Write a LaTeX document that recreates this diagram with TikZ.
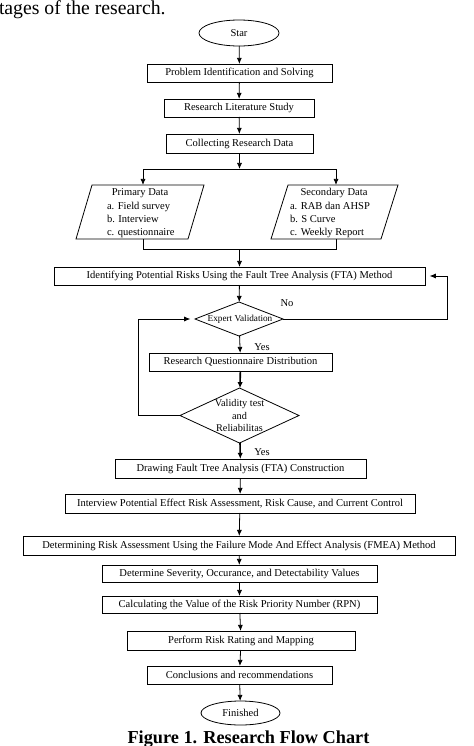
\documentclass[tikz,border=0pt]{standalone}
\usepackage{fontspec}
\setmainfont{Liberation Serif}
\usetikzlibrary{shapes.geometric,arrows.meta,calc}
\begin{document}
\begin{tikzpicture}[x=0.75pt,y=-0.75pt,
  every node/.style={font=\fontsize{7.9pt}{9.4pt}\selectfont, inner sep=0pt, outer sep=0pt},
  ln/.style={line width=0.6pt},
  box/.style 2 args={draw, ln, rectangle, minimum width=#1*0.75pt, minimum height=#2*0.75pt},
  term/.style 2 args={draw, ln, ellipse, minimum width=#1*0.75pt, minimum height=#2*0.75pt},
  dia/.style 2 args={draw, ln, diamond, minimum width=#1*0.75pt, minimum height=#2*0.75pt},
  frame/.style 2 args={rectangle, minimum width=#1*0.75pt, minimum height=#2*0.75pt},
  arr/.style={ln, -{Latex[length=4.6pt,width=3.8pt]}},
  thk/.style={line width=1.2pt, -{Latex[length=4.6pt,width=4pt]}},
  lab/.style={font=\fontsize{7.9pt}{9.4pt}\selectfont},
]
\useasboundingbox (0,0) rectangle (474,746);

% heading fragment and caption
\node[anchor=base west, font=\fontsize{14.8pt}{17pt}\selectfont] (head) at (-1,14.5) {tages of the research.};
\node[anchor=base, font=\fontsize{13.7pt}{16pt}\selectfont\bfseries] (cap) at (248.5,743) {Figure 1. Research Flow Chart};

% main column
\node[term={80}{26}] (start) at (239,33) {Star};
\node[box={185}{18}] (p1) at (239.5,73) {Problem Identification and Solving};
\node[box={150}{18}] (p2) at (239,108) {Research Literature Study};
\node[box={147}{19}] (p3) at (239.5,143.5) {Collecting Research Data};

% data parallelograms
\node[frame={128}{54}] (prim) at (140,212) {};
\node[frame={127}{54}] (sec) at (334.5,212) {};
\draw[ln] ($(prim.north west)+(16,0)$) -- (prim.north east) -- ($(prim.south east)+(-16,0)$) -- (prim.south west) -- cycle;
\draw[ln] ($(sec.north west)+(17,0)$) -- (sec.north east) -- ($(sec.south east)+(-17,0)$) -- (sec.south west) -- cycle;
\node (primT) at (140,193) {Primary Data};
\node[anchor=west, align=left, font=\fontsize{7.9pt}{9.75pt}\selectfont] (primL) at (107,220) {a. Field survey\\b. Interview\\c. questionnaire};
\node (secT) at (334,193) {Secondary Data};
\node[anchor=west, align=left, font=\fontsize{7.9pt}{9.75pt}\selectfont] (secL) at (290,220) {a. RAB dan AHSP\\b. S Curve\\c. Weekly Report};

\node[box={371}{18}] (p4) at (239.5,276) {Identifying Potential Risks Using the Fault Tree Analysis (FTA) Method};
\node[dia={88}{34}] (d1) at (239,319) {};
\node[font=\fontsize{6.9pt}{8pt}\selectfont] (d1t) at (240,319.5) {Expert Validation};
\node[box={183}{18}] (p5) at (240.5,362) {Research Questionnaire Distribution};
\node[dia={119}{55}] (d2) at (239.5,415.5) {};
\node[align=center, font=\fontsize{7.7pt}{9.4pt}\selectfont] (d2t) at (239.5,415.5) {Validity test\\and\\Reliabilitas};
\node[box={251}{19}] (p6) at (240.5,468.5) {Drawing Fault Tree Analysis (FTA) Construction};
\node[box={350}{19}] (p7) at (240,503.5) {Interview Potential Effect Risk Assessment, Risk Cause, and Current Control};
\node[box={432}{19}] (p8) at (239,545.5) {Determining Risk Assessment Using the Failure Mode And Effect Analysis (FMEA) Method};
\node[box={275}{17}] (p9) at (239.5,573.5) {Determine Severity, Occurance, and Detectability Values};
\node[box={275}{17}] (p10) at (239.5,604.5) {Calculating the Value of the Risk Priority Number (RPN)};
\node[box={228}{19}] (p11) at (241,640.5) {Perform Risk Rating and Mapping};
\node[box={185}{18}] (p12) at (239.5,675) {Conclusions and recommendations};
\node[term={79}{24}] (fin) at (240.5,713) {Finished};

% labels
\node[lab] (no) at (287,303) {No};
\node[lab] (yes1) at (262,347) {Yes};
\node[lab] (yes2) at (262,452) {Yes};

% junction coordinates
\coordinate (j1) at (239.5,169);
\coordinate (jl) at (143,169);
\coordinate (jr) at (336,169);
\coordinate (bl) at (143,249);
\coordinate (br) at (336,249);
\coordinate (b1) at (239.5,249);
\coordinate (lp) at (138,0);
\coordinate (fb) at (447,0);

% connectors
\draw[arr] (start) -- (p1);
\draw[arr] (p1) -- (p2);
\draw[arr] (p2) -- (p3);
\draw[arr] (p3) -- (j1);
\draw[ln] (jl) -- (jr);
\draw[arr] (jl) -- (jl |- prim.north);
\draw[arr] (jr) -- (jr |- sec.north);
\draw[ln] (bl |- prim.south) -- (bl) -- (br) -- (br |- sec.south);
\draw[arr] (b1) -- (p4);
\draw[arr] (p4) -- (d1);
\draw[arr, shorten >=3.5pt] (d1.east) -- (d1.east -| fb) -- (p4.east -| fb) -- (p4.east);
\draw[arr] (d1) -- (p5);
\draw[thk] (p5) -- (d2);
\draw[arr, shorten >=3.5pt] (d2.west) -- (d2.west -| lp) -- (d1.west -| lp) -- (d1.west);
\draw[thk] (d2) -- (p6);
\draw[arr] (p6) -- (p7);
\draw[arr] (p7) -- (p8);
\draw[arr] (p8) -- (p9);
\draw[arr] (p9) -- (p10);
\draw[arr] (p10) -- (p11);
\draw[arr] (p11) -- (p12);
\draw[arr] (p12) -- (fin);
\end{tikzpicture}
\end{document}
